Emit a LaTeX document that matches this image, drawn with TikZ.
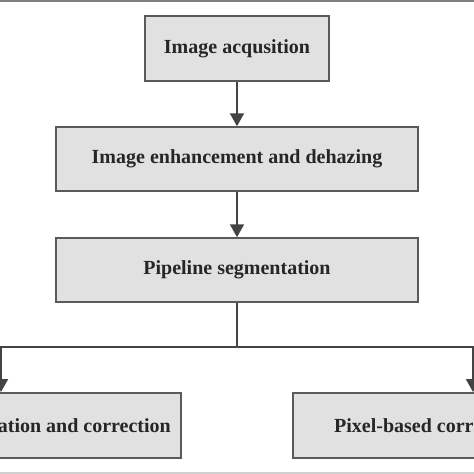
\documentclass[tikz,border=0pt]{standalone}
\usepackage{fontspec}
\setmainfont{Liberation Serif}
\usetikzlibrary{arrows.meta}
\definecolor{boxfill}{HTML}{E1E1E1}
\definecolor{boxline}{HTML}{5A5A5A}
\definecolor{arrowc}{HTML}{444444}
\definecolor{topband}{HTML}{7F7F7F}
\definecolor{botband}{HTML}{D0D0D0}
\tikzset{
  stepbox/.style={draw=boxline, line width=1.5pt, fill=boxfill, inner sep=0pt},
  lbl/.style={font=\fontsize{20}{24}\selectfont\bfseries, text=black!85, inner sep=0pt},
  conn/.style={draw=arrowc, line width=2pt},
  arr/.style={conn, -{Triangle[width=14pt,length=13pt]}}
}
\begin{document}
\begin{tikzpicture}[x=1pt,y=-1pt]
\useasboundingbox (0,0) rectangle (474,474);
\clip (0,0) rectangle (474,474);
\fill[white] (0,0) rectangle (474,474);
\fill[topband] (0,0) rectangle (474,2);
\fill[botband] (0,472) rectangle (474,474);
% boxes
\node[stepbox, minimum width=184pt, minimum height=65pt] (b1) at (237,48.5) {};
\node[lbl] at (b1.center) {Image acqusition};
\node[stepbox, minimum width=362pt, minimum height=64pt] (b2) at (237,159) {};
\node[lbl] at (b2.center) {Image enhancement and dehazing};
\node[stepbox, minimum width=362pt, minimum height=64pt] (b3) at (237,270) {};
\node[lbl] at (b3.center) {Pipeline segmentation};
\node[stepbox, minimum width=362pt, minimum height=65pt] (b4) at (0,425.5) {};
\node[lbl, anchor=east] (t4) at (171,425.5) {ation and correction};
\node[stepbox, minimum width=362pt, minimum height=65pt] (b5) at (474,425.5) {};
\node[lbl, anchor=west] (t5) at (334,425.5) {Pixel-based corr};
% connectors
\coordinate (j) at (237,347);
\coordinate (jl) at (1,347);
\coordinate (jr) at (473,347);
\coordinate (el) at (1,392);
\coordinate (er) at (473,392);
\draw[arr] (b1.south) -- (b2.north);
\draw[arr] (b2.south) -- (b3.north);
\draw[conn] (b3.south) -- (j);
\draw[conn] (-5,347) -- (479,347);
\draw[arr] (jl) -- (el);
\draw[arr] (jr) -- (er);
\end{tikzpicture}
\end{document}
